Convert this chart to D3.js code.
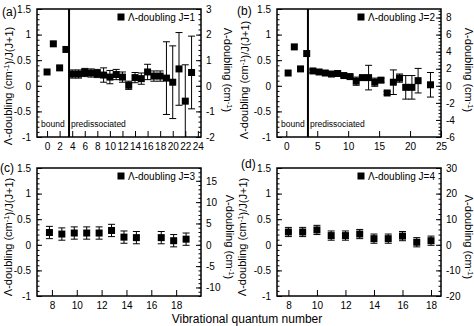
<!DOCTYPE html>
<html>
<head>
<meta charset="utf-8">
<script src="https://cdn.jsdelivr.net/npm/d3@7"></script>
<style>
body { margin: 0; background: #fff; }
svg { display: block; font-family: "Liberation Sans", Arial, sans-serif; }
</style>
</head>
<body>
<svg id="fig" width="474" height="326"></svg>
<script>
// J=1 : Lambda-doubling / J(J+1) against v
var vibA = [0,1,2,3,4,5,6,7,8,9,10,11,12,13,14,15,16,17,18,19,20,21,22,23];
var ratioA = [0.27,0.82,0.35,0.71,0.23,0.23,0.26,0.25,0.24,0.21,0.17,0.22,0.17,0.01,0.16,0.14,0.27,0.19,0.19,0.15,0.07,0.33,-0.30,0.26];
var errA = [0,0,0,0,0.08,0.08,0.08,0.08,0.08,0.14,0.13,0.10,0.10,0.08,0.10,0.11,0.15,0.10,0.10,0.71,0.71,0.71,0.71,0.71];
var xTicksA = [0,2,4,6,8,10,12,14,16,18,20,22,24];
var rTicksA = [-2,-1,0,1,2,3];

// J=2
var vibB = [0.3,1.3,2.3,3.3,4.3,5.3,6.3,7.3,8.3,9.3,10.3,11.3,12.3,13.3,14.3,15.3,16.3,17.3,18.3,19.3,20.3,21.3,23.3];
var ratioB = [0.25,0.76,0.33,0.63,0.29,0.27,0.25,0.23,0.24,0.20,0.18,0.09,0.16,0.16,0.07,0.11,-0.14,0.07,0.15,-0.03,-0.03,0.10,0.02];
var errB = [0,0,0,0,0.03,0.03,0.03,0.03,0.03,0.03,0.03,0.08,0.04,0.24,0.08,0.04,0.03,0.24,0.08,0.23,0.23,0.24,0.24];
var xTicksB = [0,5,10,15,20,25];
var rTicksB = [-6,-4,-2,0,2,4,6,8];

// J=3
var vibC = [7.8,8.8,9.8,10.8,11.8,12.8,13.8,14.8,16.8,17.8,18.8];
var ratioC = [0.24,0.21,0.23,0.23,0.23,0.28,0.15,0.14,0.14,0.08,0.11];
var errC = [0.12,0.12,0.12,0.12,0.12,0.12,0.12,0.12,0.12,0.12,0.12];
var xTicksC = [8,10,12,14,16,18];
var rTicksC = [-10,-5,0,5,10,15];

// J=4
var vibD = [8,9,10,11,12,13,14,15,16,17,18];
var ratioD = [0.25,0.25,0.29,0.18,0.18,0.21,0.12,0.12,0.17,0.05,0.08];
var errD = [0.09,0.09,0.09,0.09,0.09,0.09,0.09,0.09,0.09,0.09,0.09];
var xTicksD = [8,10,12,14,16,18];
var rTicksD = [-20,-10,0,10,20,30];

var yTicks = [-1,-0.5,0,0.5,1,1.5];

var panels = [
  {tag:"(a)", J:1, vib:vibA, val:ratioA, err:errA, xTicks:xTicksA, rTicks:rTicksA, rStep:1,
   xDomain:[-1.6,24.5], box:[37,9,201,137], split:3.5, tagPos:[2,16], lTitle:[8,86], rTitle:[228,70]},
  {tag:"(b)", J:2, vib:vibB, val:ratioB, err:errB, xTicks:xTicksB, rTicks:rTicksB, rStep:2,
   xDomain:[-1.5,25], box:[277,9,441,137], split:3.5, tagPos:[237,15], lTitle:[244,80], rTitle:[469,70]},
  {tag:"(c)", J:3, vib:vibC, val:ratioC, err:errC, xTicks:xTicksC, rTicks:rTicksC, rStep:5,
   xDomain:[6.8,20], box:[37,168,201,296], split:null, tagPos:[0,172], lTitle:[8,237], rTitle:[230,237]},
  {tag:"(d)", J:4, vib:vibD, val:ratioD, err:errD, xTicks:xTicksD, rTicks:rTicksD, rStep:10,
   xDomain:[7.2,18.7], box:[277,168,441,296], split:null, tagPos:[241,168], lTitle:[242,237], rTitle:[469,237]}
];

var svg = d3.select("#fig");

function styleAxis(g) {
  g.select(".domain").remove();
  g.attr("font-family", null).attr("font-size", 10);
  g.selectAll("line").attr("stroke", "#000");
  g.selectAll("text").attr("fill", "#000");
}

function addTitle(g, x, y, rot, size) {
  var t = g.append("text")
    .attr("transform", "translate(" + x + "," + y + ") rotate(" + rot + ")")
    .attr("text-anchor", "middle")
    .attr("dy", "0.35em")
    .attr("font-size", size);
  t.append("tspan").text("Λ-doubling (cm");
  t.append("tspan").attr("dy", "-0.4em").attr("font-size", size * 0.7).text("-1");
  t.append("tspan").attr("dy", "0.4em").text(")");
  return t;
}

function drawPanel(p, idx) {
  var b = p.box;
  var jj = p.J * (p.J + 1);
  var x = d3.scaleLinear().domain(p.xDomain).range([b[0], b[2]]);
  var y = d3.scaleLinear().domain([-1, 1.5]).range([b[3], b[1]]);
  var yR = d3.scaleLinear().domain([-1 * jj, 1.5 * jj]).range([b[3], b[1]]);
  var g = svg.append("g");

  g.append("clipPath").attr("id", "clip" + idx)
    .append("rect").attr("x", b[0]).attr("y", b[1])
    .attr("width", b[2] - b[0]).attr("height", b[3] - b[1]);

  // left axis, major + minor ticks pointing inward
  g.append("g").attr("transform", "translate(" + b[0] + ",0)")
    .call(d3.axisLeft(y).tickValues(d3.range(-1, 1.51, 0.1)).tickSize(-2.5).tickFormat(""))
    .call(styleAxis);
  g.append("g").attr("transform", "translate(" + b[0] + ",0)")
    .call(d3.axisLeft(y).tickValues(yTicks).tickSize(-5).tickPadding(6).tickFormat(function(d) { return String(d); }))
    .call(styleAxis);

  // right axis in plain cm^-1
  var minorR = d3.range(yR.domain()[0], yR.domain()[1] + 1e-9, p.rStep / 5);
  g.append("g").attr("transform", "translate(" + b[2] + ",0)")
    .call(d3.axisRight(yR).tickValues(minorR).tickSize(-2.5).tickFormat(""))
    .call(styleAxis);
  g.append("g").attr("transform", "translate(" + b[2] + ",0)")
    .call(d3.axisRight(yR).tickValues(p.rTicks).tickSize(-5).tickPadding(5).tickFormat(function(d) { return String(d); }))
    .call(styleAxis);

  // bottom axis
  g.append("g").attr("transform", "translate(0," + b[3] + ")")
    .call(d3.axisBottom(x).tickValues(p.xTicks).tickSize(-6).tickPadding(6))
    .call(styleAxis);

  // bound / predissociated divider
  if (p.split !== null) {
    g.append("line")
      .attr("x1", x(p.split)).attr("x2", x(p.split))
      .attr("y1", b[1]).attr("y2", b[3])
      .attr("stroke", "#000").attr("stroke-width", 2);
    g.append("text").attr("x", b[0] + 4).attr("y", b[3] - 10)
      .attr("font-size", 8.5).text("bound");
    g.append("text").attr("x", x(p.split) + 2).attr("y", b[3] - 10)
      .attr("font-size", 8.5).text("predissociated");
  }

  var pts = p.vib.map(function(v, i) { return {v: v, y: p.val[i], e: p.err[i]}; });
  var data = g.append("g").attr("clip-path", "url(#clip" + idx + ")");

  // error bars
  var eb = data.selectAll("g.eb").data(pts.filter(function(d) { return d.e > 0; }))
    .enter().append("g").attr("class", "eb")
    .attr("stroke", "#000").attr("stroke-width", 1);
  eb.append("line")
    .attr("x1", function(d) { return x(d.v); }).attr("x2", function(d) { return x(d.v); })
    .attr("y1", function(d) { return y(d.y - d.e); }).attr("y2", function(d) { return y(d.y + d.e); });
  eb.append("line")
    .attr("x1", function(d) { return x(d.v) - 3.5; }).attr("x2", function(d) { return x(d.v) + 3.5; })
    .attr("y1", function(d) { return y(d.y + d.e); }).attr("y2", function(d) { return y(d.y + d.e); });
  eb.append("line")
    .attr("x1", function(d) { return x(d.v) - 3.5; }).attr("x2", function(d) { return x(d.v) + 3.5; })
    .attr("y1", function(d) { return y(d.y - d.e); }).attr("y2", function(d) { return y(d.y - d.e); });

  // square markers
  data.selectAll("rect.pt").data(pts).enter().append("rect").attr("class", "pt")
    .attr("x", function(d) { return x(d.v) - 3.5; })
    .attr("y", function(d) { return y(d.y) - 3.5; })
    .attr("width", 7).attr("height", 7).attr("fill", "#000");

  // frame
  g.append("rect").attr("x", b[0]).attr("y", b[1])
    .attr("width", b[2] - b[0]).attr("height", b[3] - b[1])
    .attr("fill", "none").attr("stroke", "#000").attr("stroke-width", 1.5);

  // key
  var key = g.append("text").attr("x", b[2] - 6).attr("y", b[1] + 12)
    .attr("text-anchor", "end").attr("font-size", 10)
    .text("Λ-doubling J=" + p.J);
  var kw = key.node().getComputedTextLength();
  g.append("rect").attr("x", b[2] - 6 - kw - 10.5).attr("y", b[1] + 4.5)
    .attr("width", 7).attr("height", 7).attr("fill", "#000");

  // panel tag and axis titles
  g.append("text").attr("x", p.tagPos[0]).attr("y", p.tagPos[1])
    .attr("font-size", 12).text(p.tag);
  var lt = addTitle(g, p.lTitle[0], p.lTitle[1], -90, 11);
  lt.append("tspan").text("/J(J+1)");
  addTitle(g, p.rTitle[0], p.rTitle[1], 90, 11);
}

panels.forEach(drawPanel);

svg.append("text").attr("x", 247).attr("y", 323)
  .attr("text-anchor", "middle").attr("font-size", 12)
  .text("Vibrational quantum number");
</script>
</body>
</html>
